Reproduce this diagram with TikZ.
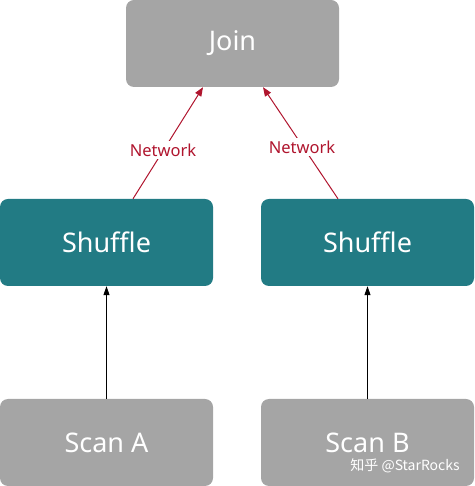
\documentclass[tikz,border=0pt]{standalone}
\usepackage{fontspec}
\setmainfont{Noto Sans}
\newfontfamily\cjk{Noto Sans CJK SC}
\usetikzlibrary{arrows.meta}
\definecolor{boxgray}{HTML}{A5A5A5}
\definecolor{teal2}{HTML}{227B84}
\definecolor{netred}{HTML}{B0152E}
\tikzset{
  graybox/.style={fill=boxgray, draw=none, rounded corners=8pt, minimum width=213pt, minimum height=87pt, inner sep=0pt, text=white, font=\fontsize{27}{31}\selectfont},
  tealbox/.style={graybox, fill=teal2},
  netarrow/.style={draw=netred, line width=1pt, -{Triangle[length=9pt,width=7pt]}},
  blkarrow/.style={draw=black, line width=1pt, -{Triangle[length=9pt,width=6pt]}},
  netlabel/.style={fill=white, text=netred, font=\fontsize{16.5}{19}\selectfont, inner sep=3pt},
  wmark/.style={text=white, font=\cjk\fontsize{14}{16}\selectfont, inner sep=0pt}
}
\begin{document}
\begin{tikzpicture}[x=1pt,y=1pt]
\useasboundingbox (0,0) rectangle (474,486);
\node[graybox] (join) at (232.5,442.5) {Join};
\node[tealbox] (sh1) at (106.5,243.5) {Shuffle};
\node[tealbox] (sh2) at (367.5,243.5) {Shuffle};
\node[graybox] (scanA) at (106.5,43.5) {Scan A};
\node[graybox] (scanB) at (367.5,43.5) {Scan B};
\draw[blkarrow] (scanA.north) -- (sh1.south);
\draw[blkarrow] (scanB.north) -- (sh2.south);
\draw[netarrow] ([xshift=26.5pt]sh1.north) -- ([xshift=-29.5pt]join.south);
\draw[netarrow] ([xshift=-29.5pt]sh2.north) -- ([xshift=30.5pt]join.south);
\node[netlabel] (net1) at (163,336) {Network};
\node[netlabel] (net2) at (302,339) {Network};
\node[wmark] (wm) at (405,20) {知乎 @StarRocks};
\end{tikzpicture}
\end{document}
